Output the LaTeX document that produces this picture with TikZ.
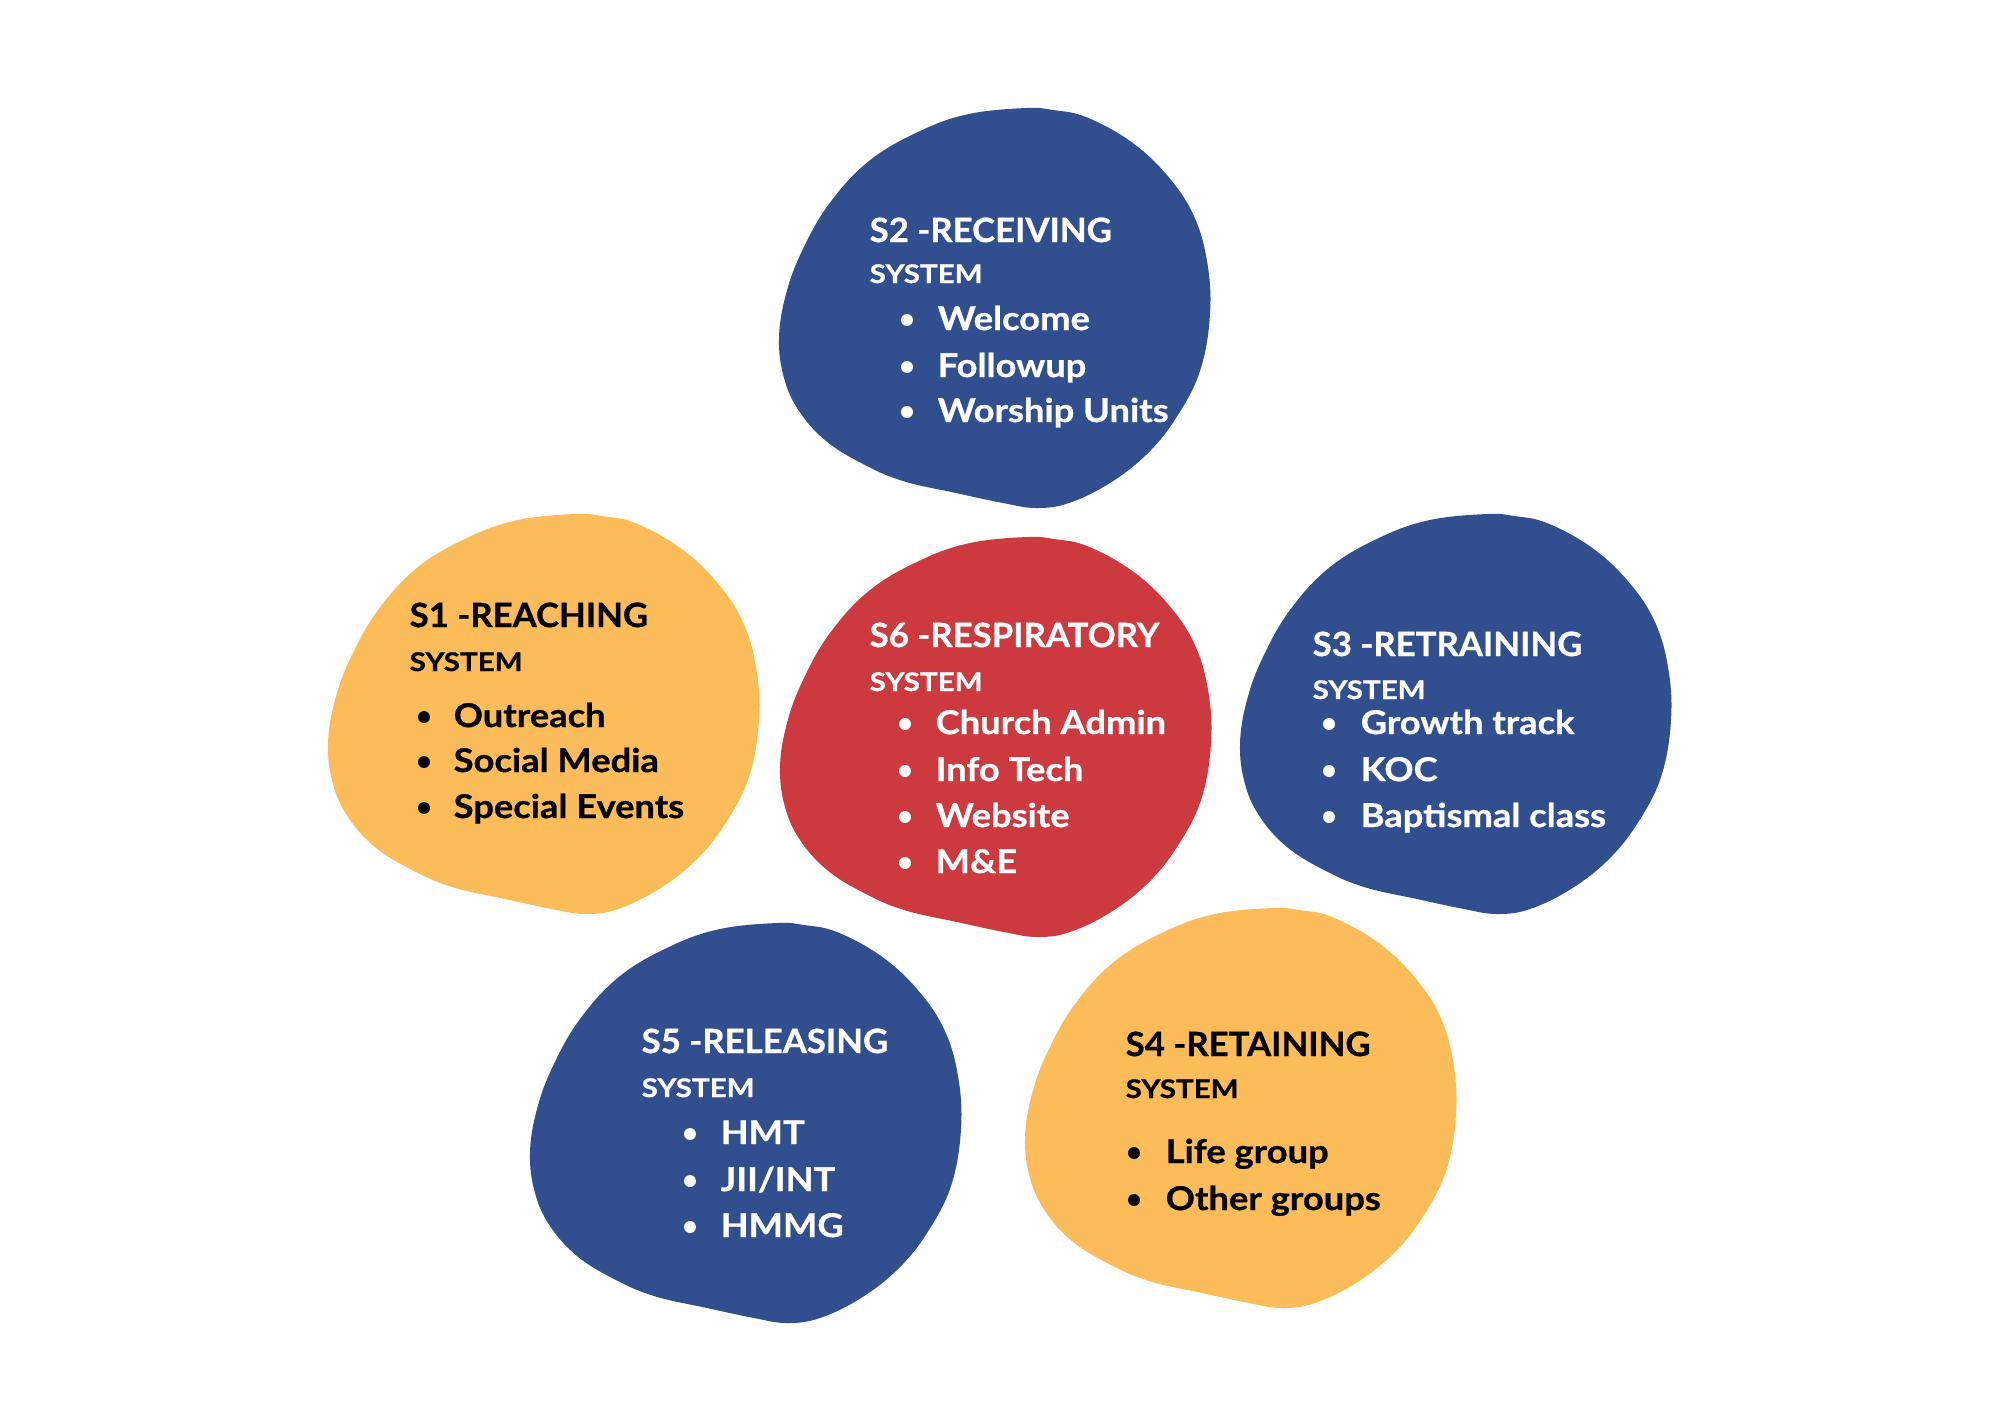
\documentclass[tikz,border=0pt]{standalone}
\usepackage{fontspec}
\setmainfont{Lato}
\newfontfamily\ttlfont{Lato}[FakeStretch=1.04, FakeBold=0.8]
\newfontfamily\sysfont{Lato}[FakeStretch=1.15, FakeBold=0.8]
\newfontfamily\itmfont{Lato}[FakeStretch=1.11, FakeBold=0.8]
\definecolor{blobblue}{HTML}{314F8F}
\definecolor{blobyellow}{HTML}{FDBC5A}
\definecolor{blobred}{HTML}{CC3A3F}
\newcommand{\myblob}[3]{%
  \begin{scope}[shift={(#1,#2)}]
  \fill[#3] plot[smooth cycle, tension=0.65] coordinates {
    (247,0) (190,6) (141,23) (90,53) (50,96) (23,143) (7,186) (0,230) (5,270)
    (20,303) (47,333) (84,356) (124,373) (177,385) (224,395) (257,400) (290,395)
    (331,375) (368,346) (397,310) (421,263) (431,206) (428,153) (414,106)
    (387,66) (351,33) (307,9) (274,2)};
  \end{scope}}
\tikzset{
  ttl/.style={anchor=base west, inner sep=0pt, font=\ttlfont\fontsize{9.5}{11}\selectfont\bfseries},
  sys/.style={anchor=base west, inner sep=0pt, font=\sysfont\fontsize{7.3}{9}\selectfont\bfseries},
  itm/.style={anchor=base west, inner sep=0pt, font=\itmfont\fontsize{9.3}{11}\selectfont\bfseries},
  dot/.style={circle, inner sep=0pt, minimum size=3.4pt},
}
\begin{document}
\begin{tikzpicture}[x=0.01cm, y=-0.01cm]
\useasboundingbox (0,0) rectangle (2000,1414);
\fill[white] (0,0) rectangle (2000,1414);
% blobs
\myblob{779}{108}{blobblue}
\myblob{328}{514}{blobyellow}
\myblob{780}{537}{blobred}
\myblob{1240}{514}{blobblue}
\myblob{530}{923}{blobblue}
\myblob{1025}{908}{blobyellow}
% S2
\node[ttl, text=white] (s2t) at (869,242) {S2 -RECEIVING};
\node[sys, text=white] (s2s) at (869,283) {SYSTEM};
\node[dot, fill=white] (s2d1) at (907,320) {};
\node[itm, text=white] (s2i1) at (937,330) {Welcome};
\node[dot, fill=white] (s2d2) at (907,367) {};
\node[itm, text=white] (s2i2) at (937,377) {Followup};
\node[dot, fill=white] (s2d3) at (907,412) {};
\node[itm, text=white] (s2i3) at (937,422) {Worship Units};
% S1
\node[ttl, text=black] (s1t) at (409,627) {S1 -REACHING};
\node[sys, text=black] (s1s) at (409,671) {SYSTEM};
\node[dot, fill=black] (s1d1) at (424,717) {};
\node[itm, text=black] (s1i1) at (453,727) {Outreach};
\node[dot, fill=black] (s1d2) at (424,762) {};
\node[itm, text=black] (s1i2) at (453,772) {Social Media};
\node[dot, fill=black] (s1d3) at (424,808) {};
\node[itm, text=black] (s1i3) at (453,818) {Special Events};
% S6
\node[ttl, text=white] (s6t) at (869,647) {S6 -RESPIRATORY};
\node[sys, text=white] (s6s) at (869,691) {SYSTEM};
\node[dot, fill=white] (s6d1) at (905,724) {};
\node[itm, text=white] (s6i1) at (935,734) {Church Admin};
\node[dot, fill=white] (s6d2) at (905,771) {};
\node[itm, text=white] (s6i2) at (935,781) {Info Tech};
\node[dot, fill=white] (s6d3) at (905,817) {};
\node[itm, text=white] (s6i3) at (935,827) {Website};
\node[dot, fill=white] (s6d4) at (905,863) {};
\node[itm, text=white] (s6i4) at (935,873) {M\&E};
% S3
\node[ttl, text=white] (s3t) at (1312,656) {S3 -RETRAINING};
\node[sys, text=white] (s3s) at (1312,699) {SYSTEM};
\node[dot, fill=white] (s3d1) at (1329,724) {};
\node[itm, text=white] (s3i1) at (1360,734) {Growth track};
\node[dot, fill=white] (s3d2) at (1329,771) {};
\node[itm, text=white] (s3i2) at (1360,781) {KOC};
\node[dot, fill=white] (s3d3) at (1329,817) {};
\node[itm, text=white] (s3i3) at (1360,827) {Baptismal class};
% S5
\node[ttl, text=white] (s5t) at (641,1053) {S5 -RELEASING};
\node[sys, text=white] (s5s) at (641,1097) {SYSTEM};
\node[dot, fill=white] (s5d1) at (690,1134) {};
\node[itm, text=white] (s5i1) at (720,1144) {HMT};
\node[dot, fill=white] (s5d2) at (690,1181) {};
\node[itm, text=white] (s5i2) at (720,1191) {JII/INT};
\node[dot, fill=white] (s5d3) at (690,1227) {};
\node[itm, text=white] (s5i3) at (720,1237) {HMMG};
% S4
\node[ttl, text=black] (s4t) at (1125,1056) {S4 -RETAINING};
\node[sys, text=black] (s4s) at (1125,1098) {SYSTEM};
\node[dot, fill=black] (s4d1) at (1134,1153) {};
\node[itm, text=black] (s4i1) at (1165,1163) {Life group};
\node[dot, fill=black] (s4d2) at (1134,1200) {};
\node[itm, text=black] (s4i2) at (1165,1210) {Other groups};
\end{tikzpicture}
\end{document}
